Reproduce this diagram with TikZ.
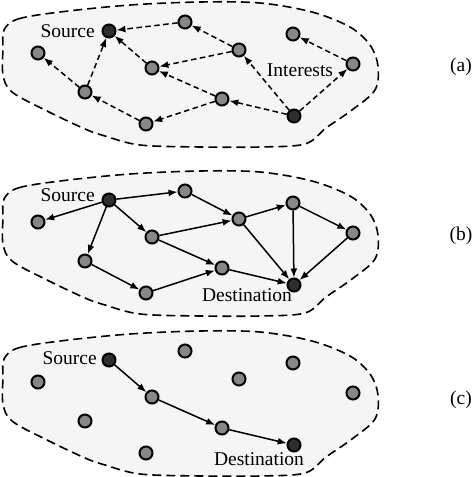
\documentclass[tikz,border=0pt]{standalone}
\usepackage{fontspec}
\setmainfont{Liberation Serif}
\usetikzlibrary{arrows.meta}
\begin{document}
\begin{tikzpicture}[x=1pt,y=-1pt,
  nd/.style={circle,draw=black,line width=2pt,minimum size=13pt,inner sep=0pt},
  gr/.style={nd,fill=black!47},
  dk/.style={nd,fill=black!82},
  blob/.style={draw=black,line width=1.6pt,dash pattern=on 9pt off 5pt,fill=black!4},
  ed/.style={line width=1.5pt,-{Latex[length=9pt,width=7pt]}},
  ded/.style={ed,dash pattern=on 5.5pt off 3.5pt},
  lbl/.style={inner sep=0pt,font=\fontsize{19.5}{22}\selectfont}]
\useasboundingbox (0,0) rectangle (474,477);
\fill[white] (0,0) rectangle (474,477);
\foreach \p/\dy in {a/0,b/169,c/329}{
  \begin{scope}[shift={(0,\dy)}]
    \draw[blob] plot[smooth cycle,tension=0.55] coordinates {
      (4,30) (18,19) (60,12) (130,5) (200,2) (260,3) (312,12) (350,27)
      (370,45) (378,66) (375,90) (352,110) (326,128) (305,144) (260,147)
      (200,147) (140,145) (105,136) (85,129) (45,110) (12,92) (3,75) (3,48)};
    \node[dk] (\p S) at (109,31) {};
    \node[gr] (\p 1) at (185,22) {};
    \node[gr] (\p 2) at (38,53) {};
    \node[gr] (\p 3) at (239,50) {};
    \node[gr] (\p 4) at (293,34) {};
    \node[gr] (\p 5) at (353,64) {};
    \node[gr] (\p 6) at (152,68) {};
    \node[gr] (\p 7) at (85,92) {};
    \node[gr] (\p 8) at (222,99) {};
    \node[gr] (\p 9) at (146,124) {};
    \node[dk] (\p D) at (294,116) {};
  \end{scope}
}
% (a) interests
\foreach \u/\v in {1/S,3/1,3/6,6/S,7/S,7/2,9/7,8/6,8/9,D/8,D/3,D/5,5/4}
  \draw[ded] (a\u) -- (a\v);
% (b) flooding
\foreach \u/\v in {S/1,S/2,S/7,S/6,1/3,6/3,6/8,3/4,3/D,4/D,4/5,5/D,7/9,9/8,8/D}
  \draw[ed] (b\u) -- (b\v);
% (c) path
\foreach \u/\v in {S/6,6/8,8/D}
  \draw[ed] (c\u) -- (c\v);
% labels
\node[lbl,anchor=east] (la1) at (95,31) {Source};
\node[lbl] (la2) at (300,70) {Interests};
\node[lbl,anchor=east] (lb1) at (95,195) {Source};
\node[lbl] (lb2) at (247,295) {Destination};
\node[lbl,anchor=east] (lc1) at (97,358) {Source};
\node[lbl] (lc2) at (259,459) {Destination};
\node[lbl] (pa) at (461,67) {(a)};
\node[lbl] (pb) at (461,236) {(b)};
\node[lbl] (pc) at (461,400) {(c)};
\end{tikzpicture}
\end{document}
